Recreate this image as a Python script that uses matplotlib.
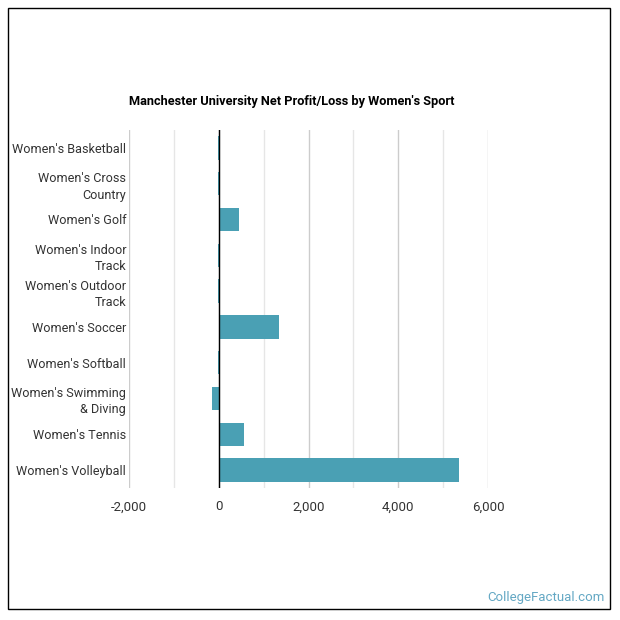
import matplotlib
matplotlib.use("Agg")
import matplotlib.pyplot as plt
from matplotlib.patches import Rectangle
from matplotlib.ticker import FuncFormatter, MultipleLocator

plt.rcParams["font.family"] = ["Roboto", "DejaVu Sans"]

sports = ["Women's Basketball", "Women's Cross\nCountry", "Women's Golf",
          "Women's Indoor\nTrack", "Women's Outdoor\nTrack", "Women's Soccer",
          "Women's Softball", "Women's Swimming\n& Diving", "Women's Tennis",
          "Women's Volleyball"]
net_profit = [-15, -15, 446, -15, -15, 1340, -15, -150, 558, 5360]
x_ticks = [-2000, 0, 2000, 4000, 6000]

BAR = "#4aa0b4"

fig = plt.figure(figsize=(6.2, 6.2), dpi=100)
ax = fig.add_axes([129 / 620, 1 - 488 / 620, 359 / 620, 358 / 620])

ypos = list(range(len(sports)))
ax.barh(ypos, net_profit, height=0.65, color=BAR, zorder=3)
ax.axvline(0, color="black", lw=1, zorder=4)

ax.set_xlim(-2000, 6000)
ax.set_ylim(len(sports) - 0.5, -0.5)
ax.set_yticks(ypos)
ax.set_yticklabels(sports, fontsize=9.1, color="#333333", linespacing=1.35)
ax.set_xticks(x_ticks)
ax.xaxis.set_minor_locator(MultipleLocator(1000))
ax.xaxis.set_major_formatter(FuncFormatter(lambda v, p: f"{v:,.0f}"))
ax.tick_params(axis="x", labelsize=9.5, colors="#333333", length=0, pad=9)
ax.tick_params(axis="x", which="minor", length=0)
ax.tick_params(axis="y", length=0, pad=2)
ax.grid(axis="x", which="major", color="#cccccc", lw=1, zorder=0)
ax.grid(axis="x", which="minor", color="#e6e6e6", lw=1, zorder=0)
for s in ax.spines.values():
    s.set_visible(False)

fig.text(292 / 620, 1 - 101 / 620, "Manchester University Net Profit/Loss by Women's Sport",
         ha="center", va="center", fontsize=9.2, fontweight="bold", color="black")
fig.text(605 / 620, 1 - 598 / 620, "CollegeFactual.com", ha="right", va="center",
         fontsize=9.5, color="#64a8c4")

fig.patches.append(Rectangle((8 / 620, 1 - 609 / 620), 602 / 620, 601 / 620,
                             transform=fig.transFigure, fill=False,
                             edgecolor="black", lw=1))

fig.savefig("out.png", dpi=100)
